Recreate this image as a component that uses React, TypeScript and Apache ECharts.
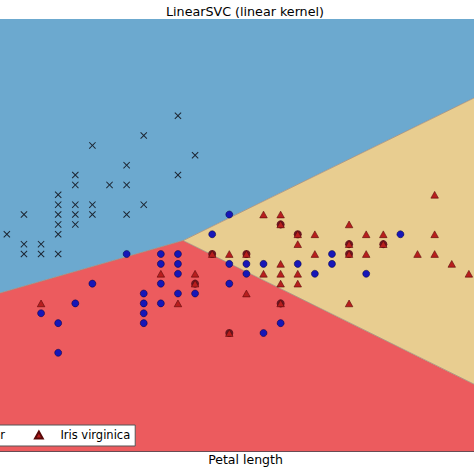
import React, { useEffect, useRef } from 'react';
import * as echarts from 'echarts';

const chartTitle = 'LinearSVC (linear kernel)';
const xAxisLabel = 'Petal length';
const classNames = ['Iris setosa', 'Iris versicolor', 'Iris virginica'];
const xRange = [4.26, 7.03];
const yRange = [1.0, 5.38];

const setosa = [
  [5.3, 4.4], [5.1, 4.2], [4.8, 4.1], [5.4, 4.0], [5.0, 3.9], [4.7, 3.8], [5.3, 3.8],
  [4.7, 3.7], [4.9, 3.7], [5.0, 3.7], [4.6, 3.6], [4.6, 3.5], [4.7, 3.5], [4.8, 3.5],
  [5.1, 3.5], [4.4, 3.4], [4.6, 3.4], [4.7, 3.4], [4.8, 3.4], [5.0, 3.4], [4.6, 3.3],
  [4.7, 3.3], [4.3, 3.2], [4.6, 3.2], [4.4, 3.1], [4.5, 3.1], [4.4, 3.0], [4.5, 3.0],
  [4.6, 3.0],
];

const versicolor = [
  [5.6, 3.4], [5.5, 3.2], [6.6, 3.2], [5.0, 3.0], [5.2, 3.0], [5.3, 3.0], [6.2, 3.0],
  [5.2, 2.9], [5.3, 2.9], [5.6, 2.9], [5.7, 2.9], [5.8, 2.9], [6.0, 2.9], [6.2, 2.9],
  [5.3, 2.8], [5.7, 2.8], [6.1, 2.8], [6.4, 2.8], [4.8, 2.7], [5.2, 2.7], [5.6, 2.7],
  [5.1, 2.6], [5.3, 2.6], [5.4, 2.6], [4.7, 2.5], [5.1, 2.5], [5.2, 2.5], [4.5, 2.4],
  [5.1, 2.4], [4.6, 2.3], [5.1, 2.3], [5.9, 2.3], [5.8, 2.2], [4.6, 2.0],
];

const virginica = [
  [6.8, 3.6], [5.8, 3.4], [5.9, 3.4], [6.3, 3.3], [5.9, 3.3], [6.0, 3.2], [6.1, 3.2],
  [6.4, 3.2], [6.5, 3.2], [6.8, 3.2], [6.0, 3.1], [6.3, 3.1], [6.5, 3.1], [5.5, 3.0],
  [5.6, 3.0], [5.7, 3.0], [6.1, 3.0], [6.3, 3.0], [6.4, 3.0], [6.7, 3.0], [6.8, 3.0],
  [5.9, 2.9], [6.9, 2.9], [5.2, 2.8], [5.4, 2.8], [5.8, 2.8], [5.9, 2.8], [6.0, 2.8],
  [7.0, 2.8], [5.4, 2.7], [5.9, 2.7], [6.0, 2.7], [5.7, 2.6], [4.5, 2.5], [5.3, 2.5],
  [5.9, 2.5], [6.3, 2.5], [5.6, 2.2],
];

// points where a circle sits under a triangle
const overlap = [
  [5.9, 3.3], [6.0, 3.2], [6.3, 3.1], [6.5, 3.1], [5.5, 3.0], [5.7, 3.0], [6.3, 3.0],
  [5.4, 2.7], [5.9, 2.5], [5.6, 2.2],
];

// decision regions (data coordinates)
const regionSetosa = [[4.26, 5.38], [7.03, 5.38], [7.03, 4.58], [5.33, 3.136], [4.26, 2.604]];
const regionVirginica = [[5.33, 3.136], [7.03, 4.58], [7.03, 1.682]];
const regionVersicolor = [[4.26, 2.604], [5.33, 3.136], [7.03, 1.682], [7.03, 1.0], [4.26, 1.0]];
const boundarySetVers = [[4.26, 2.604], [5.33, 3.136]];
const boundarySetVirg = [[5.33, 3.136], [7.03, 4.58]];
const boundaryVersVirg = [[5.33, 3.136], [7.03, 1.682]];

const FONT = 'DejaVu Sans';
const xPath = 'path://M0,1L1,0L5,4L9,0L10,1L6,5L10,9L9,10L5,6L1,10L0,9L4,5Z';
const triPath = 'path://M5,0L10,9L0,9Z';

export default function App() {
  const ref = useRef<HTMLDivElement>(null);
  useEffect(() => {
    if (!ref.current) return;
    const chart = echarts.init(ref.current, undefined, { renderer: 'svg' });
    const regions = [regionSetosa, regionVersicolor, regionVirginica];
    const regionColors = ['#6ca9cf', '#ec5b5e', '#e8cd90'];
    const boundaryLine = (d: number[][]) => ({
      type: 'line',
      data: d,
      symbol: 'none',
      silent: true,
      z: 2,
      lineStyle: { color: '#a08c7c', width: 1, opacity: 0.8 },
    });
    chart.setOption({
      animation: false,
      title: {
        text: chartTitle,
        left: 166,
        top: 5,
        padding: 0,
        textStyle: { fontFamily: FONT, fontSize: 12.7, fontWeight: 'normal', color: '#000' },
      },
      legend: {
        data: classNames,
        left: -215.7,
        top: 425,
        width: 440,
        orient: 'horizontal',
        itemWidth: 33,
        itemHeight: 7,
        itemGap: 29,
        symbolKeepAspect: true,
        padding: [4, 5, 5, 5],
        backgroundColor: '#ffffff',
        borderColor: '#555555',
        borderWidth: 1,
        borderRadius: 0,
        selectedMode: false,
        textStyle: { fontFamily: FONT, fontSize: 11.5, color: '#000' },
      },
      grid: { left: 0, right: 0, top: 19, bottom: 22.5, containLabel: false },
      xAxis: [
        {
          type: 'value',
          min: xRange[0],
          max: xRange[1],
          position: 'bottom',
          name: xAxisLabel,
          nameLocation: 'middle',
          nameGap: 1,
          nameTextStyle: { fontFamily: FONT, fontSize: 12.5, color: '#000', padding: [0, 0, 0, 17] },
          axisLine: { show: true, onZero: false, lineStyle: { color: '#3c4650', width: 1 } },
          axisTick: { show: false },
          axisLabel: { show: false },
          splitLine: { show: false },
        },
        {
          type: 'value',
          min: xRange[0],
          max: xRange[1],
          position: 'top',
          axisLine: { show: true, onZero: false, lineStyle: { color: '#3c4650', width: 1 } },
          axisTick: { show: false },
          axisLabel: { show: false },
          splitLine: { show: false },
        },
      ],
      yAxis: {
        type: 'value',
        min: yRange[0],
        max: yRange[1],
        show: false,
      },
      series: [
        {
          type: 'custom',
          silent: true,
          clip: true,
          z: 1,
          data: regions.map((r) => r[0]),
          renderItem: (params: any, api: any) => {
            const poly = regions[params.dataIndex];
            return {
              type: 'polygon',
              shape: { points: poly.map((p) => api.coord(p)) },
              style: { fill: regionColors[params.dataIndex] },
            };
          },
        },
        boundaryLine(boundarySetVers),
        boundaryLine(boundarySetVirg),
        boundaryLine(boundaryVersVirg),
        {
          name: classNames[0],
          type: 'scatter',
          data: setosa,
          symbol: xPath,
          symbolSize: 7,
          symbolKeepAspect: true,
          z: 3,
          itemStyle: { color: '#1c2633', opacity: 1 },
        },
        {
          name: classNames[1],
          type: 'scatter',
          data: versicolor,
          symbol: 'circle',
          symbolSize: 7,
          symbolKeepAspect: true,
          z: 3,
          itemStyle: { color: '#1616b8', borderColor: '#00003a', borderWidth: 0.5, opacity: 1 },
        },
        {
          type: 'scatter',
          data: overlap,
          symbol: 'circle',
          symbolSize: 8,
          z: 3,
          itemStyle: { color: '#6a1722', opacity: 1 },
        },
        {
          name: classNames[2],
          type: 'scatter',
          data: virginica,
          symbol: triPath,
          symbolSize: 7.5,
          symbolKeepAspect: true,
          z: 4,
          itemStyle: { color: '#b81e1e', borderColor: '#5a0808', borderWidth: 0.6, opacity: 1 },
        },
      ],
    });
    return () => chart.dispose();
  }, []);
  return <div ref={ref} style={{ width: 474, height: 474, position: 'absolute', left: 0, top: 0 }} />;
}
